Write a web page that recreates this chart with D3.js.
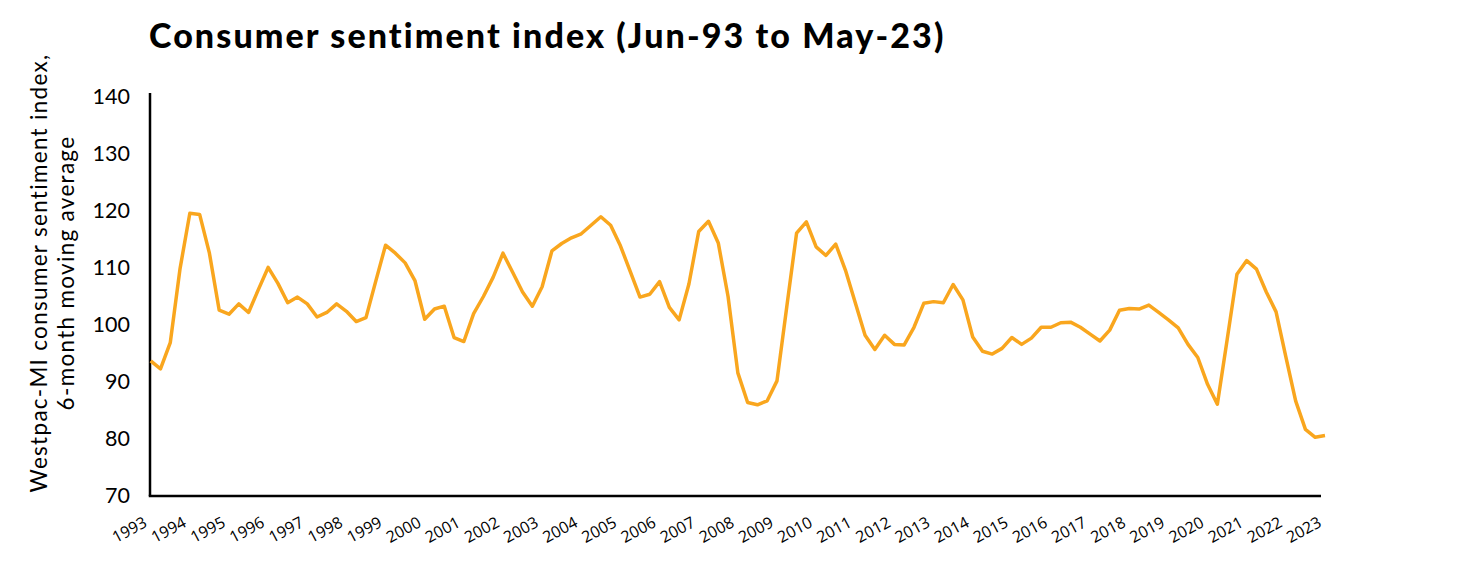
<!DOCTYPE html>
<html>
<head>
<meta charset="utf-8">
<script src="https://cdn.jsdelivr.net/npm/d3@7"></script>
<style>
  html, body { margin: 0; padding: 0; background: #fff; }
  svg { display: block; }
</style>
</head>
<body>
<svg id="chart" width="1477" height="571"></svg>
<script>
// Quarterly points, Jun-93 to May-23 (6-month moving average)
const values = [
  93.7, 92.3, 96.9, 109.9, 119.6, 119.4, 112.6, 102.6, 101.9, 103.7,
  102.2, 106.2, 110.1, 107.3, 103.9, 104.9, 103.7, 101.4, 102.2, 103.7,
  102.4, 100.6, 101.3, 107.7, 114.0, 112.6, 110.9, 107.8, 101.0, 102.8,
  103.3, 97.8, 97.1, 102.0, 105.0, 108.4, 112.6, 109.2, 105.8, 103.3,
  106.7, 113.0, 114.3, 115.3, 116.0, 117.5, 119.0, 117.5, 113.9, 109.4,
  104.9, 105.4, 107.6, 103.1, 100.9, 107.2, 116.4, 118.2, 114.4, 105.0,
  91.6, 86.4, 86.0, 86.7, 90.2, 103.2, 116.1, 118.1, 113.7, 112.2,
  114.2, 109.6, 103.9, 98.2, 95.7, 98.2, 96.6, 96.5, 99.6, 103.8,
  104.1, 103.9, 107.1, 104.4, 97.9, 95.4, 94.9, 95.9, 97.8, 96.6,
  97.7, 99.6, 99.6, 100.4, 100.5, 99.6, 98.4, 97.2, 99.1, 102.6,
  102.9, 102.8, 103.5, 102.2, 100.9, 99.5, 96.6, 94.3, 89.6, 86.1,
  97.4, 108.9, 111.3, 109.8, 105.8, 102.3, 94.4, 86.7, 81.7, 80.3,
  80.6
];
const yearLabels = ["1993","1994","1995","1996","1997","1998","1999","2000","2001","2002",
  "2003","2004","2005","2006","2007","2008","2009","2010","2011","2012","2013","2014",
  "2015","2016","2017","2018","2019","2020","2021","2022","2023"];
const yTicks = [70, 80, 90, 100, 110, 120, 130, 140];
const titleText = "Consumer sentiment index (Jun-93 to May-23)";
const yTitleLines = ["Westpac-MI consumer sentiment index,", "6-month moving average"];

const svg = d3.select("#chart");
const x0 = 150, yBottom = 496, yTop = 97;

const x = d3.scaleLinear().domain([0, values.length - 1]).range([150.7, 1325]);
const y = d3.scaleLinear().domain([70, 140]).range([yBottom, yTop]);

// Title
svg.append("text")
  .attr("x", 149).attr("y", 48)
  .attr("font-family", "Lato, 'Noto Sans', sans-serif")
  .attr("font-weight", 900)
  .attr("font-size", 34)
  .attr("letter-spacing", 2.1)
  .attr("fill", "#000")
  .text(titleText);

// Y axis title
const yt = svg.append("text")
  .attr("transform", "translate(47,273) rotate(-90)")
  .attr("text-anchor", "middle")
  .attr("font-family", "Lato, 'Noto Sans', sans-serif")
  .attr("font-size", 22.5)
  .attr("letter-spacing", 1.3)
  .attr("fill", "#000");
yTitleLines.forEach((t, i) => {
  yt.append("tspan").attr("x", 0).attr("dy", i === 0 ? 0 : 27).text(t);
});

// Y axis
const yAxis = svg.append("g")
  .attr("transform", `translate(${x0},0)`)
  .call(d3.axisLeft(y).tickValues(yTicks).tickSize(0).tickPadding(20).tickFormat(d3.format("d")));
yAxis.select(".domain").remove();
yAxis.selectAll("text")
  .attr("font-family", "Lato, 'Noto Sans', sans-serif")
  .attr("font-size", 21.5)
  .attr("fill", "#000");
svg.append("line")
  .attr("x1", x0).attr("x2", x0)
  .attr("y1", y(140) - 4).attr("y2", yBottom)
  .attr("stroke", "#000").attr("stroke-width", 2.5);

// X axis
const tickIdx = yearLabels.map((d, i) => i * 4);
const xAxis = svg.append("g")
  .attr("transform", `translate(0,${yBottom})`)
  .call(d3.axisBottom(x).tickValues(tickIdx).tickSize(0)
    .tickFormat((d) => yearLabels[d / 4]));
xAxis.select(".domain").remove();
xAxis.selectAll("text")
  .attr("font-family", "'Open Sans', sans-serif")
  .attr("font-size", 16)
  .attr("fill", "#000")
  .attr("text-anchor", "end")
  .attr("dy", null)
  .attr("y", null)
  .attr("transform", "translate(-3,30) rotate(-28)");
svg.append("line")
  .attr("x1", x0 - 1.25).attr("x2", 1321)
  .attr("y1", yBottom).attr("y2", yBottom)
  .attr("stroke", "#000").attr("stroke-width", 2.5);

// Line
const line = d3.line().x((d, i) => x(i)).y((d) => y(d));
svg.append("path")
  .datum(values)
  .attr("d", line)
  .attr("fill", "none")
  .attr("stroke", "#F9A61E")
  .attr("stroke-width", 3.5)
  .attr("stroke-linejoin", "round");
</script>
</body>
</html>
